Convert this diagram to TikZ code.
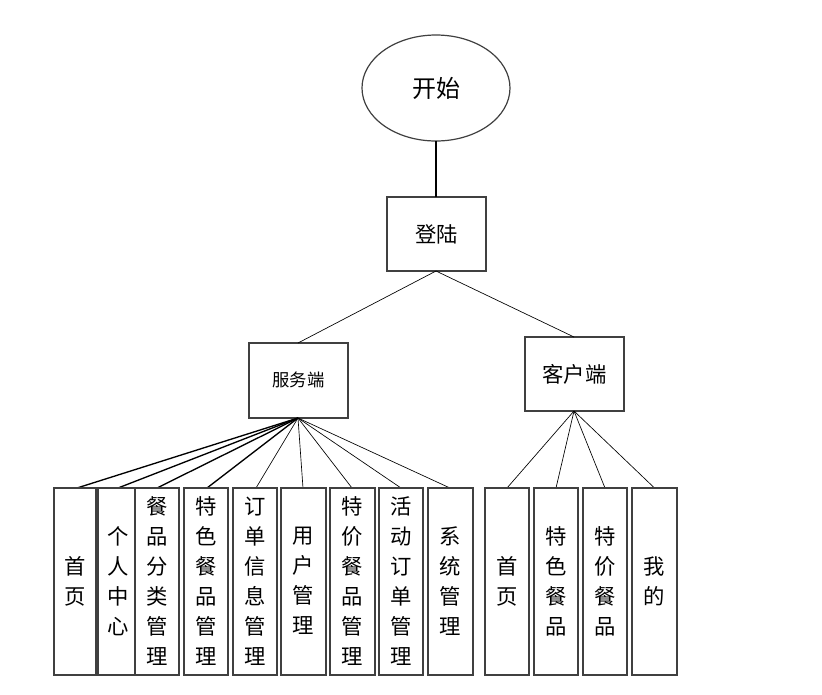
\documentclass[tikz,border=0pt]{standalone}
\usepackage{fontspec}
\setmainfont{Noto Sans CJK SC}
\begin{document}
\begin{tikzpicture}[x=0.75pt,y=-0.75pt,
  bx/.style={draw=black!75,fill=white,line width=0.9pt},
  vt/.style={font=\fontsize{16}{22.5}\selectfont,align=center},
  ln/.style={line width=0.5pt},
  thk/.style={line width=1pt}]
\useasboundingbox (0,0) rectangle (822,694);
\draw[bx] (436,88) ellipse (74 and 53);
\node[font=\fontsize{18}{20}\selectfont] (start) at (436,88) {开始};
\coordinate (sb) at (436,141);
\draw[bx] (387,197) rectangle (486,271);
\node[font=\fontsize{16}{20}\selectfont] (login) at (436.5,234) {登陆};
\coordinate (lt) at (436,197); \coordinate (lb) at (436,271);
\draw[thk] (sb) -- (lt);
\draw[bx] (249,343) rectangle (348,418);
\node[font=\fontsize{13}{16}\selectfont] (srv) at (298.5,380) {服务端};
\coordinate (st) at (298,343); \coordinate (sbot) at (298,418);
\draw[bx] (525,337) rectangle (624,411);
\node[font=\fontsize{16}{20}\selectfont] (cli) at (574.5,374) {客户端};
\coordinate (ct) at (574,337); \coordinate (cb) at (574,411);
\draw[ln] (lb) -- (st); \draw[ln] (lb) -- (ct);
% service boxes
\foreach \i/\a/\b/\t/\txt/\w in {
 1/54/96/77/{首\\页}/thk,
 2/98/139/118/{个\\人\\中\\心}/thk,
 3/135/179/157/{餐\\品\\分\\类\\管\\理}/thk,
 4/184/228/207/{特\\色\\餐\\品\\管\\理}/thk,
 5/233/277/256/{订\\单\\信\\息\\管\\理}/ln,
 6/281/326/303/{用\\户\\管\\理}/ln,
 7/330/375/352/{特\\价\\餐\\品\\管\\理}/ln,
 8/379/423/401/{活\\动\\订\\单\\管\\理}/ln,
 9/428/473/450/{系\\统\\管\\理}/ln}{
  \coordinate (s\i) at (\t,488);
  \draw[\w] (sbot) -- (s\i);
}
\foreach \i/\a/\b/\t/\txt in {
 1/54/96/77/{首\\页},
 2/98/139/118/{个\\人\\中\\心},
 3/135/179/157/{餐\\品\\分\\类\\管\\理},
 4/184/228/207/{特\\色\\餐\\品\\管\\理},
 5/233/277/256/{订\\单\\信\\息\\管\\理},
 6/281/326/303/{用\\户\\管\\理},
 7/330/375/352/{特\\价\\餐\\品\\管\\理},
 8/379/423/401/{活\\动\\订\\单\\管\\理},
 9/428/473/450/{系\\统\\管\\理}}{
  \draw[bx] (\a,488) rectangle (\b,675);
  \node[vt] (sn\i) at ({(\a+\b)/2},581) {\txt};
}
\foreach \i/\a/\b/\txt in {
 1/485/529/{首\\页},
 2/534/578/{特\\色\\餐\\品},
 3/583/627/{特\\价\\餐\\品},
 4/632/677/{我\\的}}{
  \coordinate (c\i) at ({(\a+\b)/2},488);
  \draw[ln] (cb) -- (c\i);
  \draw[bx] (\a,488) rectangle (\b,675);
  \node[vt] (cn\i) at ({(\a+\b)/2},581) {\txt};
}
\end{tikzpicture}
\end{document}
